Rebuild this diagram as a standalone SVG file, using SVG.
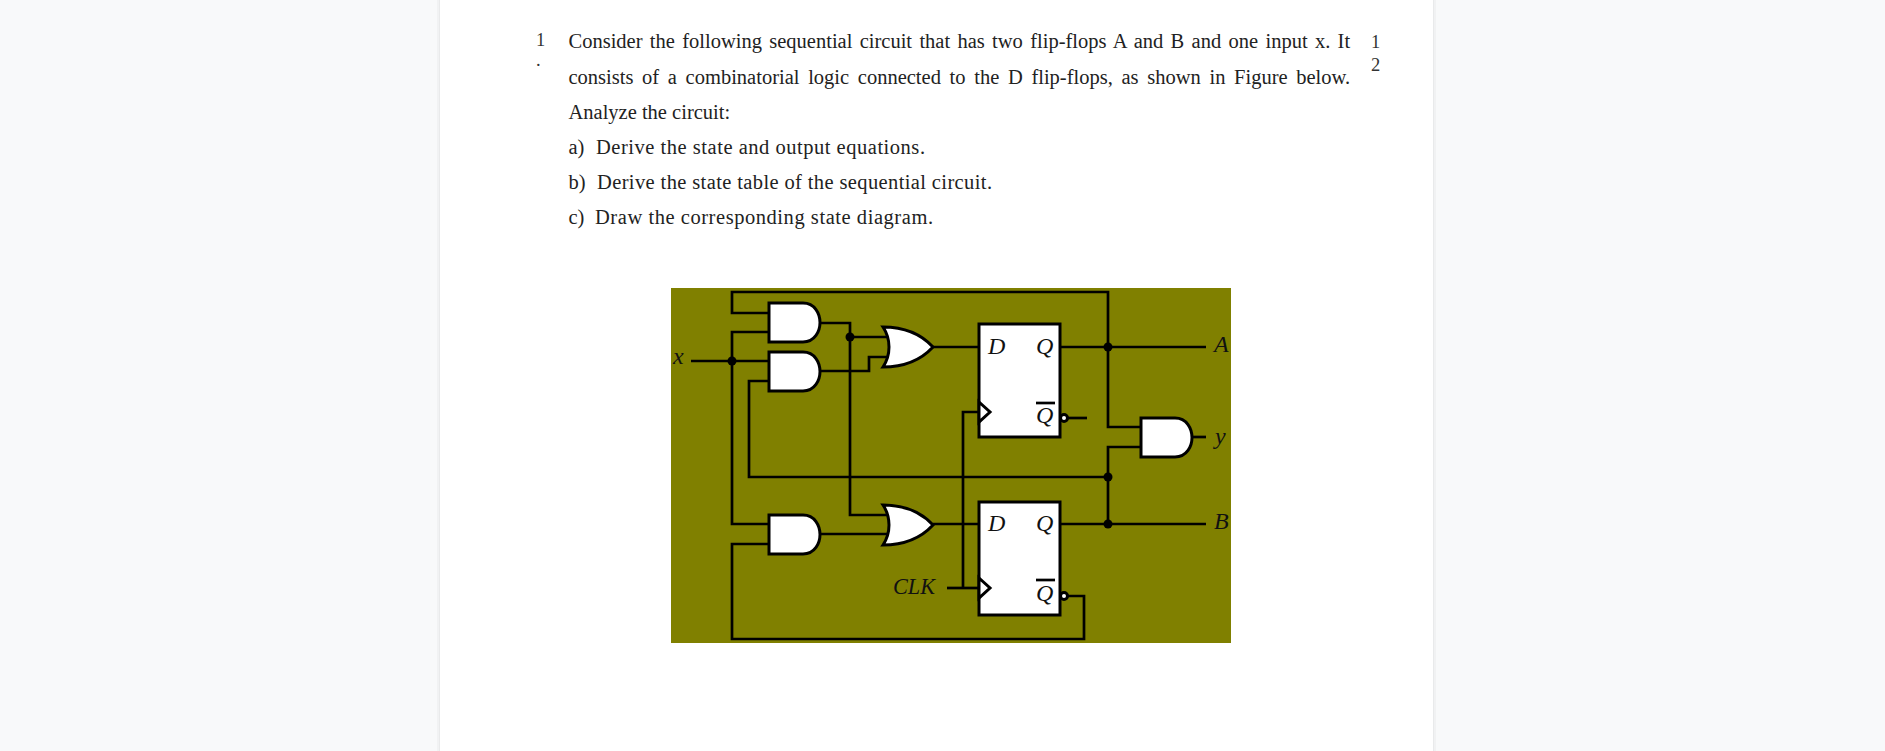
<svg xmlns="http://www.w3.org/2000/svg" width="1885" height="751" viewBox="0 0 1885 751">
<style>
.t{font-family:"Liberation Serif",serif;font-size:20.5px;fill:#222}
.n{font-family:"Liberation Serif",serif;font-size:18.500px;fill:#333}
.m{font-family:"Liberation Serif",serif;font-style:italic;font-size:24px;fill:#111}
.w{fill:none;stroke:#000;stroke-width:2.7;stroke-linejoin:miter}
.g{fill:#fff;stroke:#000;stroke-width:3;stroke-linejoin:miter}
.j{fill:#000}
</style>
<defs>
<path id="and" d="M0 0H34C46 0 51 11 51 19.5C51 28 46 39 34 39H0Z"/>
<path id="or" d="M0 0C22 0 38 7 50 20C38 33 22 40 0 40C8 28 8 12 0 0Z"/>
</defs>
<rect width="1885" height="751" fill="#f8f9fa"/>
<rect x="437" y="-5" width="999" height="770" fill="#f1f2f3"/>
<rect x="439" y="-5" width="995" height="770" fill="#e9eaeb"/>
<rect x="440" y="-5" width="993" height="770" fill="#fff"/>
<g id="question-text">
<text class="n" x="536" y="46">1</text>
<text class="n" x="536" y="66">.</text>
<text class="t" x="568.500" y="47.500" word-spacing="2.2">Consider the following sequential circuit that has two flip-flops A and B and one input x. It</text>
<text class="t" x="568.500" y="83.500" word-spacing="3.55">consists of a combinatorial logic connected to the D flip-flops, as shown in Figure below.</text>
<text class="t" x="568.500" y="118.500">Analyze the circuit:</text>
<text class="t" x="568.500" y="153.500">a)</text>
<text class="t" x="596" y="153.500" textLength="329">Derive the state and output equations.</text>
<text class="t" x="568.500" y="188.500">b)</text>
<text class="t" x="597" y="188.500" textLength="395">Derive the state table of the sequential circuit.</text>
<text class="t" x="568.500" y="223.500">c)</text>
<text class="t" x="595" y="223.500" textLength="338">Draw the corresponding state diagram.</text>
<text class="n" x="1371" y="48">1</text>
<text class="n" x="1371" y="71">2</text>
</g>
<rect id="figure-background" x="671" y="288" width="560" height="355" fill="#808000"/>
<g id="connectors">
<path class="w" d="M769 313H732V292H1108V427H1141"/>
<path class="w" d="M769 332H732V524H769"/>
<path class="w" d="M691 361H769"/>
<path class="w" d="M769 381H749V477H1108"/>
<path class="w" d="M820 323H850V515H888"/>
<path class="w" d="M850 337H888"/>
<path class="w" d="M820 371H869V357H888"/>
<path class="w" d="M820 534H888"/>
<path class="w" d="M769 544H732V639H1084V596H1068"/>
<path class="w" d="M933 347H979"/>
<path class="w" d="M933 524H979"/>
<path class="w" d="M1060 347H1206"/>
<path class="w" d="M1060 524H1206"/>
<path class="w" d="M1068 418H1087"/>
<path class="w" d="M1108 477V524"/>
<path class="w" d="M1141 447H1108V477"/>
<path class="w" d="M1192 437H1206"/>
<path class="w" d="M979 412H963V588"/>
<path class="w" d="M947 588H979"/>
<circle class="j" cx="732" cy="361" r="4.500"/>
<circle class="j" cx="850" cy="337" r="4.500"/>
<circle class="j" cx="1108" cy="347" r="4.500"/>
<circle class="j" cx="1108" cy="477" r="4.500"/>
<circle class="j" cx="1108" cy="524" r="4.500"/>
</g>
<g id="and-gate-1"><use href="#and" class="g" x="769" y="303"/></g>
<g id="and-gate-2"><use href="#and" class="g" x="769" y="352"/></g>
<g id="and-gate-3"><use href="#and" class="g" x="769" y="515"/></g>
<g id="and-gate-y"><use href="#and" class="g" x="1141" y="418"/></g>
<g id="or-gate-1"><use href="#or" class="g" x="883" y="327"/></g>
<g id="or-gate-2"><use href="#or" class="g" x="883" y="505"/></g>
<g id="flip-flop-a">
<rect class="g" x="979" y="324" width="81" height="113"/>
<path class="g" d="M979 402L990 412L979 422Z"/>
<circle class="g" cx="1064" cy="418" r="3.500"/>
<text class="m" x="988" y="354">D</text>
<text class="m" x="1036" y="354">Q</text>
<path class="w" d="M1036 403H1055"/>
<text class="m" x="1036" y="423">Q</text>
</g>
<g id="flip-flop-b">
<rect class="g" x="979" y="502" width="81" height="113"/>
<path class="g" d="M979 578L990 588L979 598Z"/>
<circle class="g" cx="1064" cy="596" r="3.500"/>
<text class="m" x="988" y="531">D</text>
<text class="m" x="1036" y="531">Q</text>
<path class="w" d="M1036 580H1055"/>
<text class="m" x="1036" y="601">Q</text>
</g>
<g id="signal-labels">
<text class="m" x="673" y="364">x</text>
<text class="m" x="1214" y="352">A</text>
<text class="m" x="1215" y="444">y</text>
<text class="m" x="1214" y="529">B</text>
<text class="m" x="893" y="594" textLength="42" lengthAdjust="spacingAndGlyphs">CLK</text>
</g>
</svg>
